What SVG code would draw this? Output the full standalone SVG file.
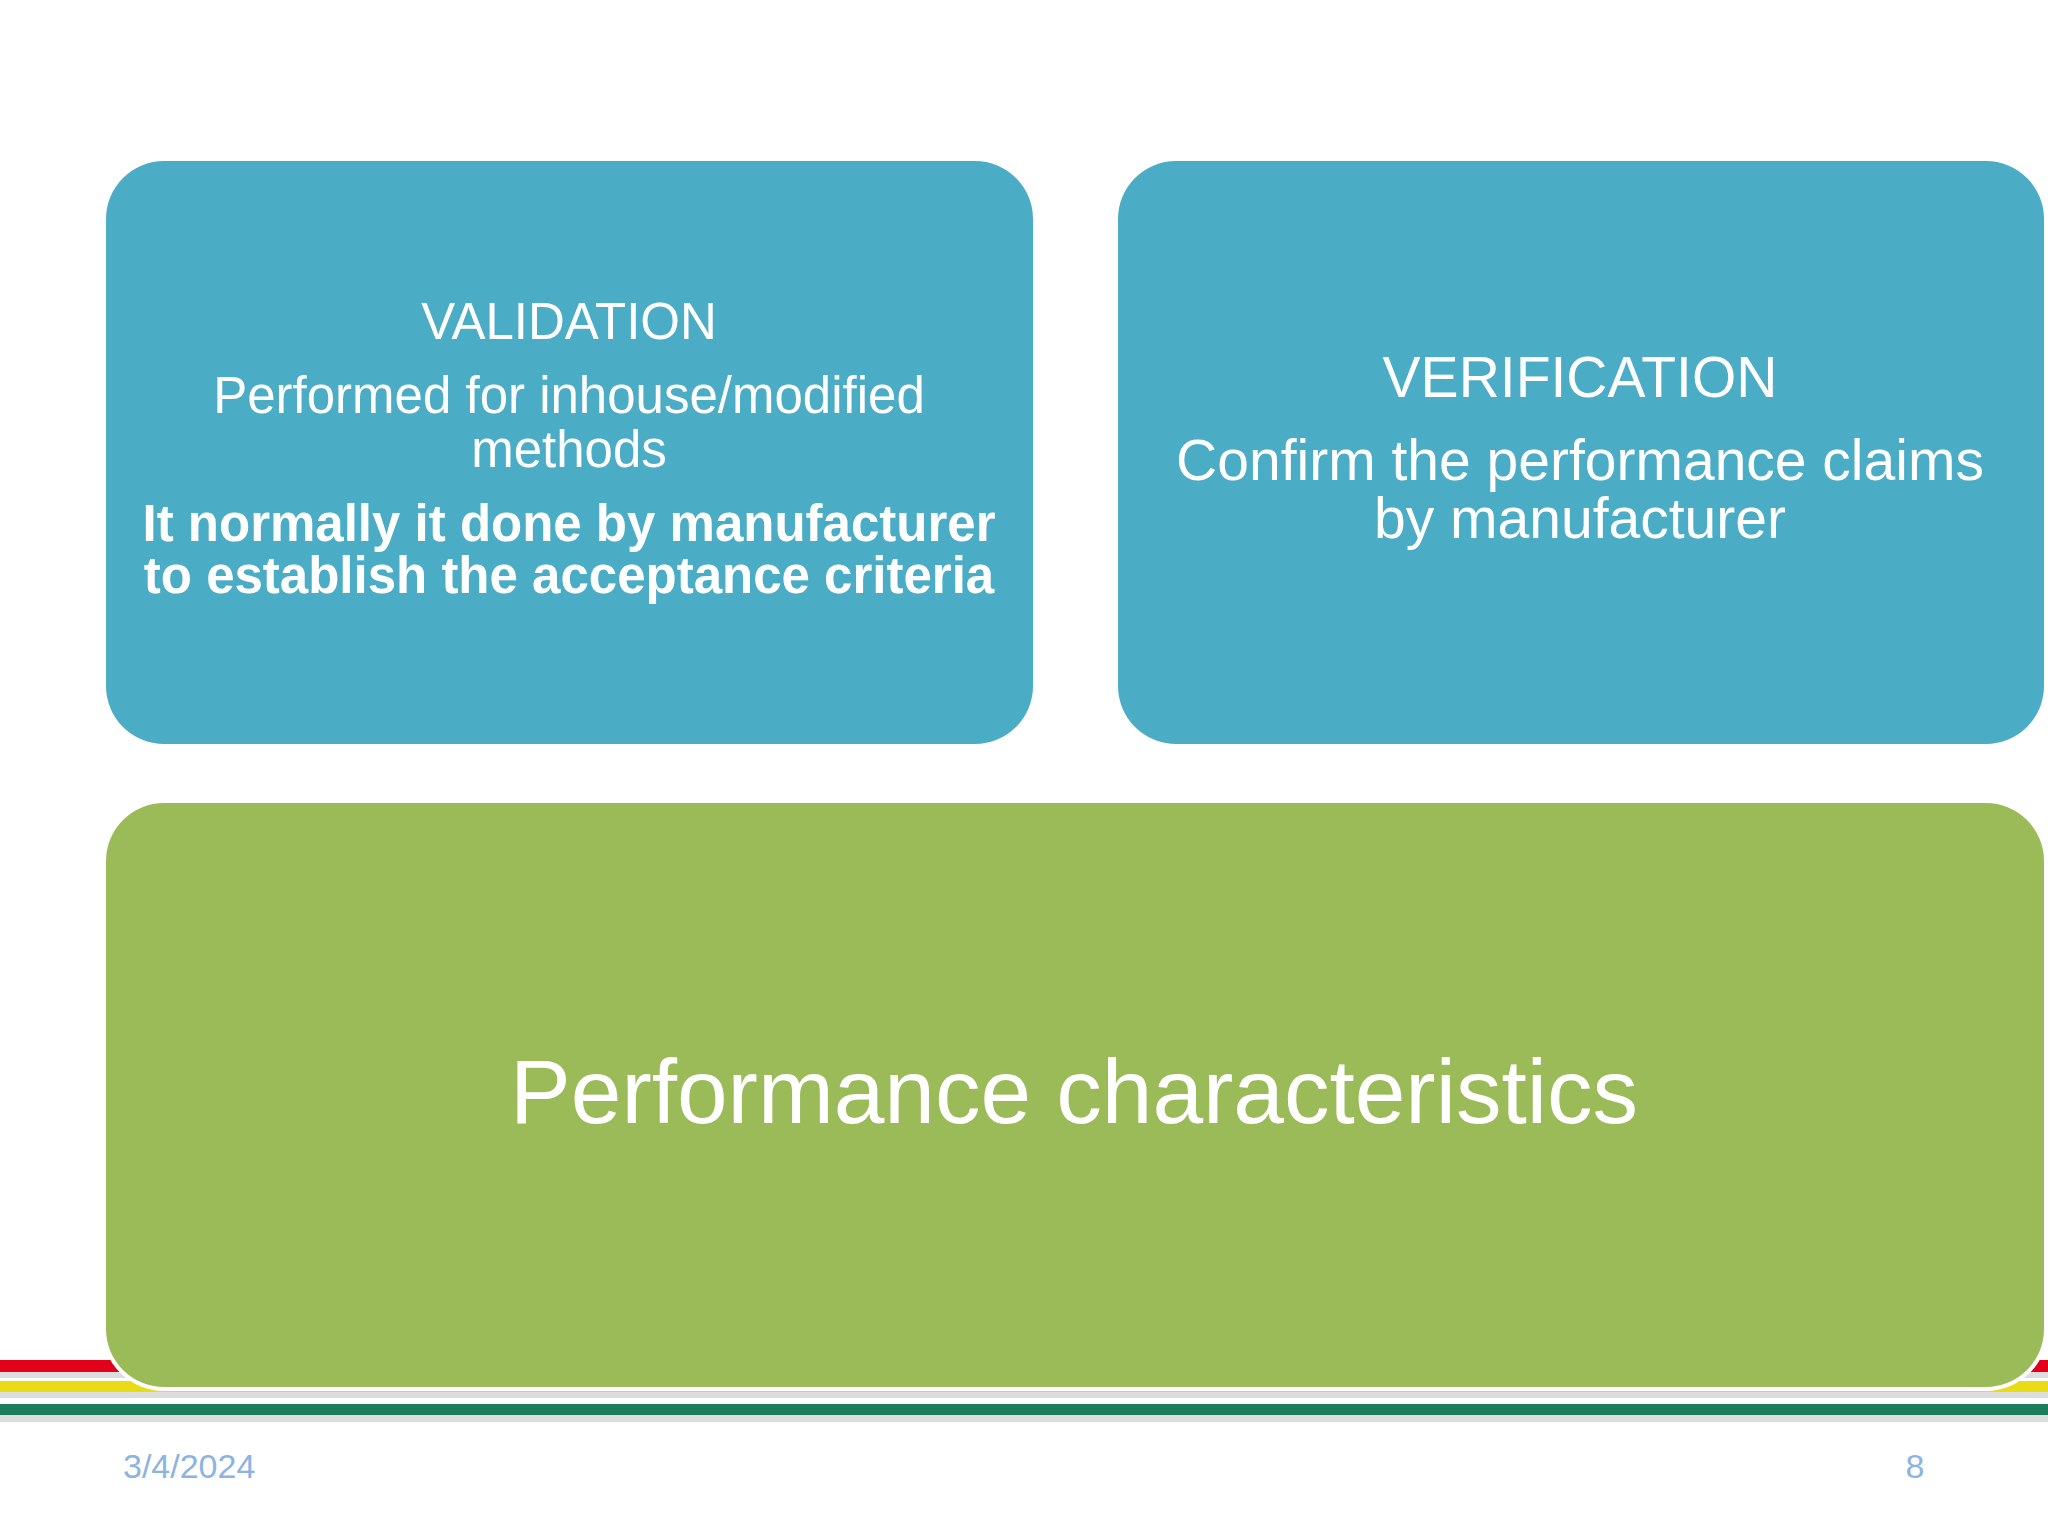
<svg xmlns="http://www.w3.org/2000/svg" width="2048" height="1536" viewBox="0 0 2048 1536">
<style>
text{font-family:"Liberation Sans",Arial,sans-serif;fill:#fff;text-anchor:middle}
.b{fill:#4BACC6}
.f{fill:#8DB3E2;font-size:34px}
</style>
<rect width="2048" height="1536" fill="#fff"/>
<g id="stripes">
<rect x="0" y="1372" width="2048" height="6" fill="#ddd"/>
<rect x="0" y="1392" width="2048" height="6" fill="#ddd"/>
<rect x="0" y="1414" width="2048" height="8" fill="#ddd"/>
<rect x="0" y="1360" width="2048" height="12" fill="#E2001A"/>
<rect x="0" y="1381" width="2048" height="11" fill="#E8DC14"/>
<rect x="0" y="1404" width="2048" height="11" fill="#1B7D5C"/>
</g>
<g id="validation">
<rect class="b" x="106" y="161" width="927" height="583" rx="58"/>
<text x="569" y="339" font-size="51">VALIDATION</text>
<text x="569" y="413" font-size="51">Performed for inhouse/modified</text>
<text x="569" y="467" font-size="51">methods</text>
<text x="569" y="541" font-size="51" font-weight="bold">It normally it done by manufacturer</text>
<text x="569" y="593" font-size="51" font-weight="bold">to establish the acceptance criteria</text>
</g>
<g id="verification">
<rect class="b" x="1118" y="161" width="926" height="583" rx="58"/>
<text x="1580" y="397" font-size="57">VERIFICATION</text>
<text x="1580" y="480" font-size="57">Confirm the performance claims</text>
<text x="1580" y="538" font-size="57">by manufacturer</text>
</g>
<g id="performance">
<rect x="102" y="799" width="1946" height="592" rx="62" fill="#fff"/>
<rect x="106" y="803" width="1938" height="584" rx="58" fill="#9BBB59"/>
<text x="1074" y="1123" font-size="91">Performance characteristics</text>
</g>
<g id="connectors"></g>
<text class="f" x="123" y="1478" style="text-anchor:start">3/4/2024</text>
<text class="f" x="1915" y="1478">8</text>
</svg>
